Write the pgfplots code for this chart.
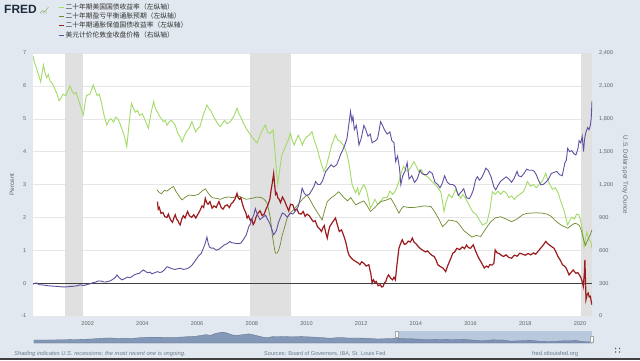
\documentclass[border=0pt]{standalone}
\usepackage{fontspec}
\setmainfont{Liberation Sans}
\newfontfamily\cjk{Noto Sans CJK SC}
\usepackage{pgfplots}
\pgfplotsset{compat=1.18}
\definecolor{bgc}{HTML}{E1E8EF}
\definecolor{tsy}{HTML}{A2DB66}
\definecolor{bei}{HTML}{6E8B2E}
\definecolor{tips}{HTML}{9A1C1F}
\definecolor{goldc}{HTML}{614FA0}
\definecolor{recg}{HTML}{E0E0E0}
\definecolor{gridc}{HTML}{E6E6E6}
\definecolor{lab}{HTML}{666666}
\definecolor{navfill}{HTML}{7389AE}
\definecolor{navsel}{HTML}{B9C8DC}
\definecolor{fredc}{HTML}{1E2B3C}
\definecolor{footc}{HTML}{6A7A8E}
\begin{document}
\begin{tikzpicture}[x=1bp,y=1bp]
\useasboundingbox (0,0) rectangle (640,360);
\fill[bgc] (0,0) rectangle (640,360);
\fill[black!75] (0,0) rectangle (640,2);
% FRED logo
\node[anchor=west, inner sep=0pt, font=\bfseries\fontsize{12}{12}\selectfont, text=fredc] at (4,351) {FRED};
\draw[tsy!60!gray, line width=0.6bp] (40,347) -- (42.5,349.5) -- (44.5,348) -- (48.5,353);
\fill[gray!45] (40.5,346) rectangle (41.5,347.5) (43,346) rectangle (44,348) (45.5,346) rectangle (46.5,349);
% footer
\node[anchor=base west, inner sep=0pt, font=\itshape\fontsize{5.8}{6}\selectfont, text=footc] at (14,4.5) {Shading indicates U.S. recessions; the most recent one is ongoing.};
\node[anchor=base west, inner sep=0pt, font=\fontsize{5.6}{6}\selectfont, text=footc] at (264,4.5) {Sources: Board of Governors, IBA, St. Louis Fed};
\node[anchor=base west, inner sep=0pt, font=\fontsize{5.8}{6}\selectfont, text=footc] at (532,4.5) {fred.stlouisfed.org};
\fill[black!70] (615,11) rectangle (616.2,12.2) (619,11) rectangle (620.2,12.2) (615,7.5) rectangle (616.2,8.7) (619,7.5) rectangle (620.2,8.7);
% navigator
\begin{axis}[at={(33bp,17bp)}, anchor=south west, scale only axis, width=559bp, height=12bp,
  xmin=1961.9, xmax=2020.44, ymin=0, ymax=16.5, hide axis, clip=false]
\addplot[fill=navsel, draw=none] coordinates {(2000,0) (2000,16.5) (2020.44,16.5) (2020.44,0)};
\addplot[fill=navfill, fill opacity=0.85, draw=navfill!80!black, line width=0.3bp] coordinates {
(1962,4.0) (1964,4.2) (1966,4.7) (1967,5.0) (1968,5.5) (1969,6.4) (1970,7.0) (1971,6.0) (1972,6.0) (1973,7.2) (1974,8.0) (1975,8.0) (1976,7.8) (1977,7.8) (1978,8.6) (1979,9.4) (1980,11.5) (1980.5,10.5) (1981,13.2) (1981.75,15.0) (1982.2,13.8) (1982.8,11.0) (1983.3,10.5) (1984.5,12.6) (1985,11.2) (1986,8.0) (1986.5,7.5) (1987,8.8) (1988,9.0) (1989,8.5) (1990,8.8) (1991,8.3) (1992,7.6) (1993,6.5) (1994,7.6) (1995,6.8) (1996,6.8) (1997,6.5) (1998,5.5) (1999,6.0) (2000,6.5) (2001,5.8) (2002,5.6) (2003,4.5) (2004,5.0) (2005,4.6) (2007,5.0) (2008.9,3.0) (2010,4.3) (2011,4.2) (2012,2.5) (2013.9,3.7) (2015,2.4) (2016.5,1.8) (2017,2.8) (2018.8,3.3) (2019.6,1.8) (2020.1,1.6) (2020.44,1.1)} \closedcycle;
\end{axis}
\fill[white, draw=gray!70, line width=0.4bp] (395.5,23) rectangle (398.5,29);
\fill[white, draw=gray!70, line width=0.4bp] (590.5,18) rectangle (593.5,24);
% main axis (left)
\begin{axis}[at={(33bp,44bp)}, anchor=south west, scale only axis, width=559bp, height=263bp,
  xmin=2000, xmax=2020.44, ymin=-1, ymax=7,
  axis x line*=bottom, axis y line*=left, axis line style={draw=none},
  major tick length=0pt,
  xtick={2002,2004,2006,2008,2010,2012,2014,2016,2018,2020}, ytick={-1,0,1,2,3,4,5,6,7},
  ymajorgrids, grid style={gridc, line width=0.5bp},
  axis background/.style={fill=white},
  /pgf/number format/assume math mode=true,
  tick label style={font=\fontsize{5.6}{6}\selectfont, text=lab},
  xticklabel style={/pgf/number format/1000 sep={}, anchor=north, inner sep=0pt, yshift=-5.5bp},
  yticklabel style={anchor=east, inner sep=0pt, xshift=-6.5bp},
  ylabel={Percent},
  every axis y label/.style={at={(axis description cs:-0.0376,0.5)}, anchor=center, rotate=90, font=\fontsize{6.3}{7}\selectfont, text=lab},
  legend style={at={(axis description cs:0,1)}, anchor=north west, xshift=25bp, yshift=50.5bp,
    draw=none, fill=none, inner sep=0pt, row sep=0.9bp, font=\cjk\fontsize{6.8}{7}\selectfont, text=black!80,
    nodes={inner sep=0.6bp}},
  legend image code/.code={\draw[#1] (0bp,0bp) -- (5.5bp,0bp);},
  legend cell align=left,
]
\addplot[fill=recg, draw=none, forget plot] coordinates {(2001.17,-1) (2001.17,7) (2001.83,7) (2001.83,-1)};
\addplot[fill=recg, draw=none, forget plot] coordinates {(2007.92,-1) (2007.92,7) (2009.42,7) (2009.42,-1)};
\addplot[fill=recg, draw=none, forget plot] coordinates {(2020.04,-1) (2020.04,7) (2020.44,7) (2020.44,-1)};
\addplot[color=black!75, line width=1.2bp, forget plot] coordinates {(2000,0) (2020.44,0)};
\addplot[color=tsy, line width=0.9bp] coordinates {
(2000.00,6.90) (2000.06,6.70) (2000.12,6.55) (2000.20,6.35) (2000.28,6.12) (2000.38,6.64) (2000.44,6.40) (2000.50,6.25) (2000.56,6.35) (2000.62,6.15) (2000.70,6.08) (2000.80,5.90) (2000.88,5.75) (2000.95,5.55) (2001.02,5.62) (2001.10,5.75) (2001.20,5.70) (2001.35,6.00) (2001.42,5.85) (2001.50,5.75) (2001.58,5.80) (2001.65,5.60) (2001.75,5.35) (2001.84,5.12) (2001.90,5.45) (2001.95,5.70) (2002.08,5.75) (2002.20,6.03) (2002.28,5.85) (2002.35,5.70) (2002.42,5.75) (2002.50,5.50) (2002.60,5.10) (2002.70,4.81) (2002.78,4.95) (2002.85,5.00) (2002.95,4.90) (2003.02,5.05) (2003.10,5.00) (2003.18,4.85) (2003.25,4.70) (2003.35,4.45) (2003.43,4.15) (2003.52,4.90) (2003.60,5.47) (2003.68,5.30) (2003.75,5.20) (2003.82,5.25) (2003.90,5.10) (2004.00,5.15) (2004.05,5.05) (2004.15,4.85) (2004.22,4.71) (2004.32,5.20) (2004.41,5.52) (2004.48,5.30) (2004.55,5.20) (2004.65,5.05) (2004.77,4.91) (2004.84,4.95) (2004.90,4.80) (2004.97,4.90) (2005.05,4.95) (2005.12,4.90) (2005.20,4.80) (2005.30,4.55) (2005.38,4.45) (2005.45,4.30) (2005.52,4.45) (2005.60,4.60) (2005.70,4.70) (2005.81,4.91) (2005.88,4.75) (2005.95,4.60) (2006.02,4.70) (2006.10,4.75) (2006.22,5.10) (2006.36,5.42) (2006.44,5.30) (2006.50,5.25) (2006.58,5.10) (2006.65,5.00) (2006.75,4.85) (2006.85,4.76) (2006.92,4.85) (2007.00,4.95) (2007.10,4.85) (2007.20,4.90) (2007.33,5.05) (2007.46,5.32) (2007.53,5.15) (2007.60,5.05) (2007.70,4.85) (2007.83,4.66) (2007.92,4.55) (2008.00,4.45) (2008.10,4.35) (2008.19,4.26) (2008.28,4.45) (2008.35,4.60) (2008.42,4.70) (2008.50,4.81) (2008.58,4.60) (2008.65,4.55) (2008.72,4.60) (2008.78,4.66) (2008.84,4.10) (2008.90,3.40) (2008.95,3.00) (2009.02,3.45) (2009.10,3.90) (2009.18,4.05) (2009.25,4.20) (2009.33,4.35) (2009.41,4.56) (2009.48,4.35) (2009.55,4.20) (2009.62,4.35) (2009.70,4.50) (2009.78,4.35) (2009.85,4.20) (2009.92,4.35) (2010.00,4.45) (2010.10,4.50) (2010.20,4.61) (2010.30,4.30) (2010.39,4.10) (2010.50,3.75) (2010.63,3.40) (2010.72,3.55) (2010.80,3.80) (2010.92,4.20) (2011.06,4.51) (2011.15,4.35) (2011.25,4.30) (2011.38,4.15) (2011.49,3.90) (2011.58,3.50) (2011.67,2.99) (2011.74,2.85) (2011.80,2.75) (2011.87,2.90) (2011.92,2.68) (2012.00,2.85) (2012.10,3.00) (2012.20,2.80) (2012.34,2.28) (2012.42,2.40) (2012.50,2.55) (2012.60,2.40) (2012.70,2.45) (2012.80,2.60) (2012.95,2.60) (2013.05,2.80) (2013.15,2.70) (2013.25,2.80) (2013.38,3.09) (2013.46,3.35) (2013.55,3.55) (2013.62,3.45) (2013.70,3.40) (2013.80,3.50) (2013.93,3.70) (2014.02,3.55) (2014.10,3.40) (2014.20,3.45) (2014.30,3.30) (2014.40,3.25) (2014.48,3.19) (2014.58,3.10) (2014.70,3.00) (2014.80,2.90) (2014.91,2.78) (2014.97,2.50) (2015.03,2.18) (2015.10,2.45) (2015.20,2.70) (2015.32,2.60) (2015.45,2.85) (2015.55,2.70) (2015.64,2.58) (2015.72,2.70) (2015.80,2.60) (2015.90,2.45) (2016.00,2.28) (2016.10,2.15) (2016.20,2.10) (2016.30,1.95) (2016.43,1.77) (2016.52,1.80) (2016.60,1.85) (2016.70,2.20) (2016.80,2.78) (2016.90,2.70) (2017.00,2.80) (2017.10,2.70) (2017.20,2.80) (2017.30,2.75) (2017.40,2.60) (2017.50,2.65) (2017.60,2.55) (2017.70,2.65) (2017.80,2.70) (2017.95,2.80) (2018.08,3.09) (2018.18,2.95) (2018.30,3.00) (2018.40,2.90) (2018.50,3.00) (2018.62,3.10) (2018.75,3.34) (2018.82,3.15) (2018.90,3.00) (2019.00,2.85) (2019.10,2.90) (2019.20,2.75) (2019.30,2.48) (2019.42,2.20) (2019.55,1.77) (2019.62,1.90) (2019.70,2.00) (2019.80,1.95) (2019.88,2.10) (2019.96,2.08) (2020.05,1.80) (2020.12,1.40) (2020.15,1.10) (2020.20,1.35) (2020.25,1.55) (2020.30,1.40) (2020.35,1.30) (2020.40,1.25) (2020.44,1.06)};
\addlegendentry{二十年期美国国债收益率（左纵轴）}
\addplot[color=bei, line width=0.7bp] coordinates {
(2004.53,2.84) (2004.62,2.75) (2004.70,2.72) (2004.80,2.82) (2004.90,2.80) (2005.02,2.88) (2005.14,2.94) (2005.22,2.80) (2005.30,2.70) (2005.38,2.60) (2005.45,2.53) (2005.58,2.62) (2005.70,2.68) (2005.88,2.66) (2006.05,2.70) (2006.18,2.80) (2006.30,2.87) (2006.42,2.72) (2006.55,2.60) (2006.70,2.58) (2006.85,2.55) (2007.00,2.60) (2007.15,2.62) (2007.30,2.60) (2007.50,2.65) (2007.65,2.60) (2007.80,2.55) (2008.00,2.58) (2008.20,2.62) (2008.35,2.60) (2008.45,2.55) (2008.55,2.45) (2008.60,2.30) (2008.68,1.98) (2008.76,1.40) (2008.86,0.91) (2008.93,0.92) (2008.98,1.00) (2009.05,1.20) (2009.10,1.42) (2009.20,1.70) (2009.30,2.00) (2009.40,2.12) (2009.47,2.18) (2009.60,2.30) (2009.70,2.40) (2009.85,2.55) (2010.02,2.68) (2010.12,2.55) (2010.25,2.35) (2010.40,2.15) (2010.57,1.92) (2010.66,2.20) (2010.76,2.48) (2010.88,2.58) (2011.00,2.65) (2011.10,2.72) (2011.18,2.78) (2011.35,2.62) (2011.50,2.50) (2011.62,2.60) (2011.70,2.50) (2011.80,2.38) (2011.95,2.45) (2012.10,2.50) (2012.22,2.35) (2012.34,2.18) (2012.50,2.30) (2012.70,2.48) (2012.90,2.52) (2013.08,2.58) (2013.20,2.42) (2013.38,2.13) (2013.46,2.25) (2013.55,2.33) (2013.75,2.30) (2013.90,2.30) (2014.10,2.32) (2014.30,2.35) (2014.55,2.33) (2014.65,2.22) (2014.75,2.08) (2014.87,1.90) (2014.97,1.72) (2015.08,1.80) (2015.20,1.92) (2015.35,1.90) (2015.50,1.87) (2015.62,1.75) (2015.75,1.60) (2015.90,1.50) (2016.05,1.40) (2016.20,1.45) (2016.37,1.42) (2016.55,1.65) (2016.74,1.87) (2016.90,1.98) (2017.10,2.02) (2017.30,1.95) (2017.50,1.87) (2017.70,1.95) (2017.90,2.08) (2018.05,2.12) (2018.20,2.13) (2018.40,2.14) (2018.60,2.13) (2018.80,2.10) (2018.95,2.03) (2019.10,1.90) (2019.30,1.77) (2019.42,1.72) (2019.55,1.67) (2019.68,1.75) (2019.80,1.82) (2019.90,1.80) (2019.98,1.75) (2020.05,1.60) (2020.10,1.42) (2020.16,1.25) (2020.20,1.15) (2020.25,1.25) (2020.30,1.35) (2020.38,1.48) (2020.44,1.62)};
\addlegendentry{二十年期盈亏平衡通胀预期（左纵轴）}
\addplot[color=tips, line width=1.2bp] coordinates {
(2004.55,2.48) (2004.58,2.25) (2004.62,2.30) (2004.68,2.12) (2004.75,2.15) (2004.82,2.02) (2004.90,2.00) (2004.95,2.10) (2005.00,1.98) (2005.05,1.90) (2005.10,1.85) (2005.15,1.98) (2005.20,2.08) (2005.25,1.95) (2005.30,1.90) (2005.34,1.82) (2005.38,1.77) (2005.44,1.95) (2005.50,2.05) (2005.56,1.98) (2005.65,2.18) (2005.72,2.05) (2005.80,2.00) (2005.88,2.08) (2005.95,1.98) (2006.02,2.08) (2006.10,2.20) (2006.18,2.35) (2006.24,2.30) (2006.30,2.58) (2006.35,2.45) (2006.40,2.40) (2006.47,2.48) (2006.55,2.28) (2006.62,2.35) (2006.70,2.30) (2006.75,2.40) (2006.80,2.48) (2006.88,2.30) (2006.95,2.25) (2007.02,2.35) (2007.10,2.38) (2007.18,2.30) (2007.25,2.42) (2007.30,2.45) (2007.38,2.55) (2007.46,2.73) (2007.50,2.60) (2007.55,2.55) (2007.60,2.60) (2007.65,2.43) (2007.72,2.25) (2007.78,2.15) (2007.83,1.98) (2007.88,2.05) (2007.95,1.90) (2008.00,1.95) (2008.05,1.78) (2008.10,1.85) (2008.15,2.00) (2008.22,2.12) (2008.30,2.20) (2008.38,2.05) (2008.45,2.10) (2008.52,2.25) (2008.60,2.40) (2008.66,2.55) (2008.70,2.80) (2008.75,3.05) (2008.80,3.34) (2008.84,2.95) (2008.87,2.70) (2008.91,2.75) (2008.95,2.60) (2009.00,2.55) (2009.05,2.45) (2009.12,2.62) (2009.20,2.50) (2009.27,2.35) (2009.35,2.20) (2009.42,2.40) (2009.50,2.38) (2009.57,2.22) (2009.65,2.25) (2009.72,2.12) (2009.80,2.10) (2009.88,2.18) (2009.95,2.03) (2010.02,2.10) (2010.10,2.05) (2010.18,1.95) (2010.25,1.87) (2010.32,1.90) (2010.40,1.72) (2010.48,1.65) (2010.55,1.57) (2010.60,1.68) (2010.65,1.75) (2010.70,1.55) (2010.76,1.37) (2010.80,1.55) (2010.85,1.72) (2010.95,1.85) (2011.06,1.98) (2011.12,1.80) (2011.20,1.57) (2011.28,1.62) (2011.35,1.47) (2011.40,1.35) (2011.45,1.20) (2011.50,1.00) (2011.55,0.86) (2011.60,0.80) (2011.65,0.75) (2011.72,0.70) (2011.80,0.66) (2011.88,0.62) (2011.95,0.56) (2012.02,0.65) (2012.10,0.60) (2012.18,0.52) (2012.28,0.56) (2012.32,0.40) (2012.35,0.30) (2012.40,0.00) (2012.45,0.10) (2012.50,0.02) (2012.55,0.05) (2012.62,-0.08) (2012.70,-0.05) (2012.75,-0.12) (2012.80,-0.10) (2012.86,0.02) (2012.90,0.05) (2012.95,0.18) (2013.00,0.25) (2013.08,0.15) (2013.15,0.10) (2013.20,0.18) (2013.25,0.10) (2013.30,0.50) (2013.38,1.06) (2013.44,1.20) (2013.50,1.32) (2013.58,1.18) (2013.65,1.20) (2013.72,1.28) (2013.80,1.25) (2013.87,1.37) (2013.93,1.25) (2014.00,1.20) (2014.08,1.12) (2014.15,1.06) (2014.25,1.00) (2014.35,0.95) (2014.42,0.98) (2014.50,0.91) (2014.58,0.85) (2014.67,0.81) (2014.74,0.70) (2014.80,0.56) (2014.90,0.50) (2015.00,0.45) (2015.09,0.35) (2015.15,0.50) (2015.25,0.70) (2015.30,0.80) (2015.35,0.91) (2015.42,0.95) (2015.50,1.06) (2015.60,1.02) (2015.70,1.10) (2015.78,1.05) (2015.85,1.16) (2015.92,1.08) (2016.00,1.06) (2016.05,1.12) (2016.10,1.16) (2016.18,0.98) (2016.25,0.85) (2016.30,0.76) (2016.40,0.62) (2016.50,0.46) (2016.58,0.52) (2016.65,0.48) (2016.70,0.56) (2016.78,0.55) (2016.85,0.60) (2016.90,1.01) (2016.97,0.92) (2017.05,0.90) (2017.12,0.85) (2017.20,0.81) (2017.30,0.86) (2017.40,0.78) (2017.50,0.76) (2017.60,0.85) (2017.70,0.82) (2017.80,0.91) (2017.90,0.88) (2018.00,0.85) (2018.10,0.90) (2018.20,0.86) (2018.30,0.92) (2018.38,0.88) (2018.45,0.95) (2018.55,1.05) (2018.65,1.15) (2018.75,1.27) (2018.82,1.20) (2018.90,1.15) (2018.98,1.10) (2019.05,1.06) (2019.12,0.95) (2019.20,0.80) (2019.28,0.70) (2019.36,0.56) (2019.43,0.52) (2019.50,0.45) (2019.55,0.35) (2019.60,0.25) (2019.67,0.32) (2019.75,0.40) (2019.80,0.35) (2019.85,0.30) (2019.92,0.32) (2019.98,0.25) (2020.04,0.15) (2020.08,0.05) (2020.12,-0.10) (2020.16,0.30) (2020.18,0.71) (2020.20,0.10) (2020.22,-0.50) (2020.26,-0.35) (2020.30,-0.30) (2020.34,-0.42) (2020.38,-0.40) (2020.41,-0.55) (2020.44,-0.66)};
\addlegendentry{二十年期通胀保值国债收益率（左纵轴）}
\addlegendimage{color=goldc, line width=0.9bp}
\addlegendentry{美元计价伦敦金收盘价格（右纵轴）}
\end{axis}
% right axis (gold)
\begin{axis}[at={(33bp,44bp)}, anchor=south west, scale only axis, width=559bp, height=263bp,
  xmin=2000, xmax=2020.44, ymin=0, ymax=2400,
  hide x axis, axis y line*=right, axis line style={draw=none},
  major tick length=0pt,
  ytick={0,300,600,900,1200,1500,1800,2100,2400},
  /pgf/number format/assume math mode=true,
  /pgf/number format/1000 sep={,},
  tick label style={font=\fontsize{5.6}{6}\selectfont, text=lab},
  yticklabel style={anchor=west, inner sep=0pt, xshift=7bp},
  ylabel={U.S. Dollars per Troy Ounce},
  every axis y label/.style={at={(axis description cs:1.059,0.536)}, anchor=center, rotate=-90, font=\fontsize{6.3}{7}\selectfont, text=lab},
]
\addplot[color=goldc, line width=0.9bp] coordinates {
(2000.00,290) (2000.08,300) (2000.15,300) (2000.22,285) (2000.30,285) (2000.45,280) (2000.60,275) (2000.75,272) (2000.90,270) (2001.05,266) (2001.17,265) (2001.30,268) (2001.40,270) (2001.50,272) (2001.60,275) (2001.72,285) (2001.85,278) (2001.95,285) (2002.10,295) (2002.20,305) (2002.30,310) (2002.40,320) (2002.50,318) (2002.60,310) (2002.70,312) (2002.82,320) (2002.95,340) (2003.02,355) (2003.07,375) (2003.15,350) (2003.25,330) (2003.35,340) (2003.45,355) (2003.55,350) (2003.62,360) (2003.70,375) (2003.80,385) (2003.90,390) (2003.97,410) (2004.04,420) (2004.12,405) (2004.20,395) (2004.28,400) (2004.35,385) (2004.45,395) (2004.55,405) (2004.62,398) (2004.70,400) (2004.80,420) (2004.90,450) (2005.00,440) (2005.10,430) (2005.20,425) (2005.30,432) (2005.40,435) (2005.50,425) (2005.60,430) (2005.70,440) (2005.80,460) (2005.92,500) (2006.06,550) (2006.15,570) (2006.20,600) (2006.28,650) (2006.36,720) (2006.40,670) (2006.45,630) (2006.52,620) (2006.60,620) (2006.70,600) (2006.80,610) (2006.90,630) (2007.00,650) (2007.10,660) (2007.20,680) (2007.25,670) (2007.35,665) (2007.50,660) (2007.60,665) (2007.70,700) (2007.80,740) (2007.89,816) (2007.95,840) (2008.00,880) (2008.07,920) (2008.13,980) (2008.20,930) (2008.30,880) (2008.40,900) (2008.50,920) (2008.58,880) (2008.65,850) (2008.72,800) (2008.80,741) (2008.85,760) (2008.90,780) (2008.97,850) (2009.05,900) (2009.12,940) (2009.20,930) (2009.30,900) (2009.40,940) (2009.50,930) (2009.60,960) (2009.70,1000) (2009.78,1080) (2009.84,1167) (2009.92,1120) (2010.00,1100) (2010.10,1110) (2010.20,1150) (2010.27,1180) (2010.33,1227) (2010.42,1200) (2010.50,1200) (2010.58,1230) (2010.65,1280) (2010.70,1317) (2010.80,1350) (2010.90,1380) (2011.00,1360) (2011.10,1380) (2011.17,1420) (2011.24,1470) (2011.32,1510) (2011.40,1560) (2011.48,1620) (2011.55,1750) (2011.61,1866) (2011.66,1780) (2011.70,1820) (2011.75,1700) (2011.82,1740) (2011.88,1640) (2011.92,1560) (2012.00,1620) (2012.10,1740) (2012.17,1700) (2012.25,1640) (2012.33,1660) (2012.40,1580) (2012.45,1590) (2012.53,1600) (2012.60,1620) (2012.66,1700) (2012.71,1773) (2012.78,1740) (2012.85,1700) (2012.95,1660) (2013.05,1680) (2013.12,1600) (2013.20,1580) (2013.26,1410) (2013.33,1460) (2013.40,1350) (2013.45,1200) (2013.52,1280) (2013.60,1320) (2013.68,1400) (2013.75,1250) (2013.85,1280) (2013.95,1220) (2014.05,1250) (2014.15,1330) (2014.22,1300) (2014.30,1290) (2014.40,1290) (2014.50,1320) (2014.60,1300) (2014.70,1220) (2014.80,1200) (2014.88,1170) (2014.95,1200) (2015.05,1280) (2015.15,1220) (2015.25,1200) (2015.35,1200) (2015.45,1180) (2015.55,1100) (2015.65,1130) (2015.75,1160) (2015.85,1080) (2015.95,1070) (2016.02,1100) (2016.10,1150) (2016.18,1240) (2016.25,1272) (2016.32,1240) (2016.40,1260) (2016.48,1300) (2016.56,1350) (2016.64,1330) (2016.75,1270) (2016.85,1180) (2016.92,1152) (2017.00,1190) (2017.10,1230) (2017.20,1250) (2017.30,1270) (2017.40,1250) (2017.50,1220) (2017.60,1260) (2017.70,1320) (2017.75,1280) (2017.85,1270) (2017.95,1300) (2018.05,1340) (2018.15,1330) (2018.25,1330) (2018.33,1320) (2018.40,1290) (2018.48,1240) (2018.57,1197) (2018.65,1200) (2018.75,1220) (2018.85,1250) (2018.95,1300) (2019.05,1310) (2019.15,1320) (2019.25,1290) (2019.35,1280) (2019.45,1400) (2019.50,1420) (2019.55,1530) (2019.62,1500) (2019.70,1510) (2019.78,1480) (2019.85,1470) (2019.92,1520) (2019.97,1600) (2020.03,1580) (2020.08,1640) (2020.13,1500) (2020.17,1620) (2020.22,1680) (2020.28,1720) (2020.33,1700) (2020.38,1740) (2020.41,1800) (2020.44,1960)};
\end{axis}
\end{tikzpicture}
\end{document}
